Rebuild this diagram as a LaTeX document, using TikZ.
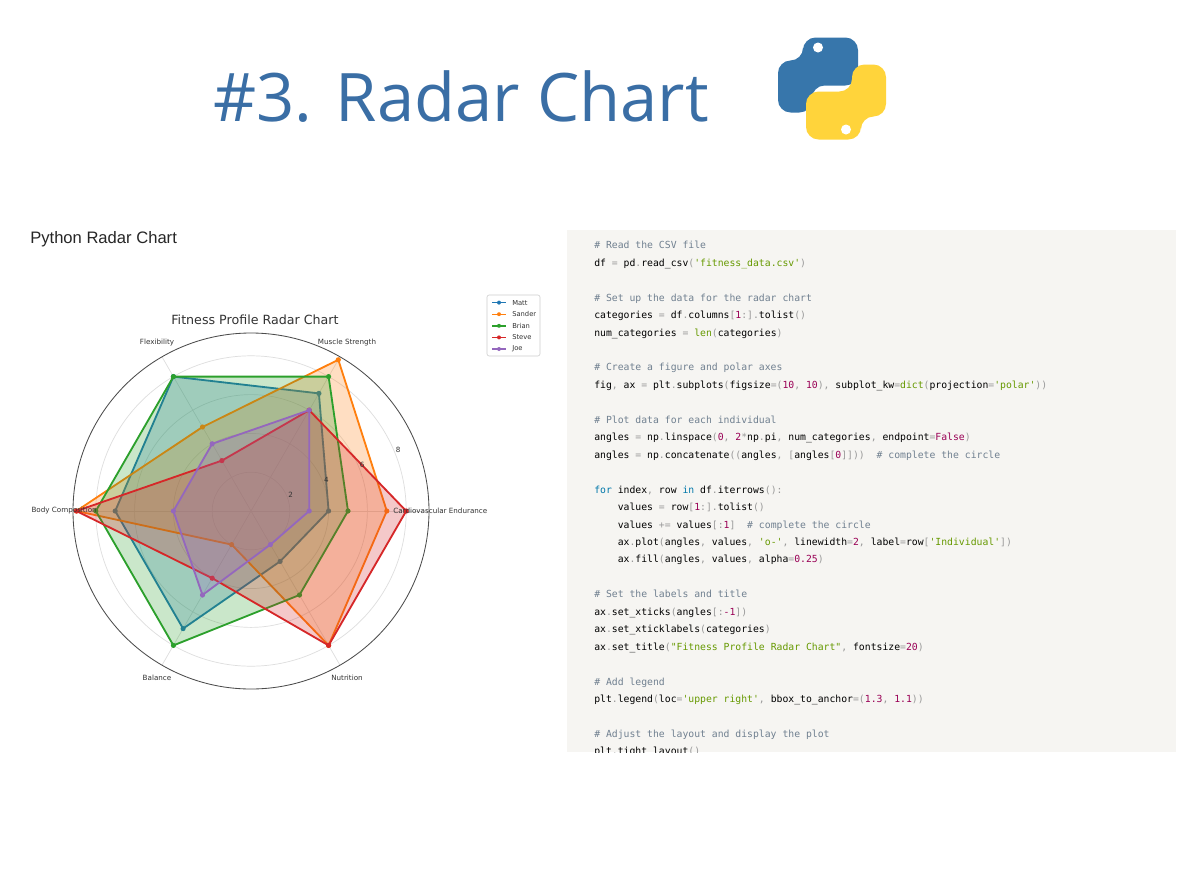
\documentclass[tikz,border=0pt]{standalone}
\usepackage{fontspec}
\setmainfont{Open Sans}
\setmonofont{DejaVu Sans Mono}
\newfontfamily\arialf{Liberation Sans}
\newfontfamily\mplf{DejaVu Sans}
\definecolor{ttl}{HTML}{3A6EA5}
\definecolor{pyblue}{HTML}{3776AB}
\definecolor{pyyel}{HTML}{FFD43B}
\definecolor{codebg}{HTML}{F6F5F2}
\definecolor{cmt}{HTML}{708090}
\definecolor{str}{HTML}{669900}
\definecolor{num}{HTML}{990055}
\definecolor{kw}{HTML}{0077AA}
\definecolor{pun}{HTML}{999999}
\definecolor{cb}{HTML}{1F77B4}
\definecolor{co}{HTML}{FF7F0E}
\definecolor{cg}{HTML}{2CA02C}
\definecolor{cr}{HTML}{D62728}
\definecolor{cp}{HTML}{9467BD}
\newcommand\Cm[1]{\textcolor{cmt}{#1}}
\newcommand\St[1]{\textcolor{str}{#1}}
\newcommand\Nm[1]{\textcolor{num}{#1}}
\newcommand\Kw[1]{\textcolor{kw}{#1}}
\newcommand\Pu[1]{\textcolor{pun}{#1}}
\newcommand\radarpoly[7]{%
  \draw[#1,line width=1.3pt,fill=#1,fill opacity=.25,line join=round]
    (0:#2*19.4) -- (60:#3*19.4) -- (120:#4*19.4) -- (180:#5*19.4) -- (240:#6*19.4) -- (300:#7*19.4) -- cycle;
  \foreach \a/\v in {0/#2,60/#3,120/#4,180/#5,240/#6,300/#7} \fill[#1] (\a:\v*19.4) circle (2.6);}
\newcommand\snake{%
  (-29,-28) -- (-29,-51) -- (26,-51) -- (26,-3) -- (-20,-3) -- (-20,24) -- (-54,24) -- (-54,-28) -- cycle}
\begin{document}
\begin{tikzpicture}[x=0.25mm,y=-0.25mm,
  codeline/.style={anchor=west,inner sep=0pt,font=\ttfamily\fontsize{6.95pt}{8pt}\selectfont,text height=5.5pt,text depth=1.5pt},
  axlab/.style={font=\mplf\fontsize{5.1pt}{6pt}\selectfont,text=black!80,inner sep=0pt},
  leglab/.style={font=\mplf\fontsize{4.8pt}{6pt}\selectfont,text=black!80,anchor=west,inner sep=0pt}]
\useasboundingbox[fill=white] (0,0) rectangle (1200,873);

% Title
\node[text=ttl,font=\fontsize{47.6pt}{56pt}\selectfont,anchor=west,inner sep=0pt] (title) at (213,97) {\#3. Radar Chart};

% Python logo
\begin{scope}[shift={(832,88.5)}]
  \fill[pyblue,rounded corners=9] \snake;
  \fill[white] (-14,-41) circle (5);
  \begin{scope}[rotate=180]
  \fill[pyyel,rounded corners=9] \snake;
  \fill[white] (-14,-41) circle (5);
  \end{scope}
\end{scope}

% Left panel
\node[font=\arialf\fontsize{11.8pt}{14pt}\selectfont,anchor=west,inner sep=0pt,text=black!85] (lt) at (30,239) {Python Radar Chart};
\node[font=\mplf\fontsize{9pt}{11pt}\selectfont,text=black!80,inner sep=0pt] (ct) at (255,320) {Fitness Profile Radar Chart};

\begin{scope}[shift={(251,511)},yscale=-1]
  \foreach \r in {2,4,6,8} \draw[black!13,line width=0.5pt] (0,0) circle (\r*19.4);
  \foreach \a in {0,60,...,300} \draw[black!13,line width=0.5pt] (0,0) -- (\a:178);
  \radarpoly{cb}{4}{7}{8}{7}{7}{3}
  \radarpoly{co}{7}{9}{5}{9}{2}{8}
  \radarpoly{cg}{5}{8}{8}{8}{8}{5}
  \radarpoly{cr}{8}{6}{3}{9}{4}{8}
  \radarpoly{cp}{3}{6}{4}{4}{5}{2}
  \draw[black!70,line width=0.6pt] (0,0) circle (178);
  \foreach \r in {2,4,6,8} \node[axlab] at (22.5:\r*19.4+4) {\r};
  \node[axlab,anchor=west] at (142,0) {Cardiovascular Endurance};
  \node[axlab] at (96,168) {Muscle Strength};
  \node[axlab] at (-94,168) {Flexibility};
  \node[axlab,anchor=east] at (-154,0) {Body Composition};
  \node[axlab] at (-94,-167) {Balance};
  \node[axlab] at (96,-167) {Nutrition};
\end{scope}

% Legend
\draw[black!20,fill=white,rounded corners=1.5,line width=0.4pt] (487,295) rectangle (540,356);
\foreach \c/\n [count=\i] in {cb/Matt,co/Sander,cg/Brian,cr/Steve,cp/Joe}{
  \draw[\c,line width=1pt] (492,291+11.6*\i) -- (506,291+11.6*\i);
  \fill[\c] (499,291+11.6*\i) circle (2);
  \node[leglab] at (512,291+11.6*\i) {\n};
}

% Code panel
\fill[codebg] (567,230) rectangle (1176,752);
\begin{scope}
\clip (567,230) rectangle (1176,752);
\def\L{17.45}
\node[codeline] at (594,246+0*\L) {\Cm{\# Read the CSV file}};
\node[codeline] at (594,246+1*\L) {df \Pu{=} pd\Pu{.}read\_csv\Pu{(}\St{'fitness\_data.csv'}\Pu{)}};
\node[codeline] at (594,246+3*\L) {\Cm{\# Set up the data for the radar chart}};
\node[codeline] at (594,246+4*\L) {categories \Pu{=} df\Pu{.}columns\Pu{[}\Nm{1}\Pu{:].}tolist\Pu{()}};
\node[codeline] at (594,246+5*\L) {num\_categories \Pu{=} \St{len}\Pu{(}categories\Pu{)}};
\node[codeline] at (594,246+7*\L) {\Cm{\# Create a figure and polar axes}};
\node[codeline] at (594,246+8*\L) {fig\Pu{,} ax \Pu{=} plt\Pu{.}subplots\Pu{(}figsize\Pu{=(}\Nm{10}\Pu{,} \Nm{10}\Pu{),} subplot\_kw\Pu{=}\St{dict}\Pu{(}projection\Pu{=}\St{'polar'}\Pu{))}};
\node[codeline] at (594,246+10*\L) {\Cm{\# Plot data for each individual}};
\node[codeline] at (594,246+11*\L) {angles \Pu{=} np\Pu{.}linspace\Pu{(}\Nm{0}\Pu{,} \Nm{2}\Pu{*}np\Pu{.}pi\Pu{,} num\_categories\Pu{,} endpoint\Pu{=}\Nm{False}\Pu{)}};
\node[codeline] at (594,246+12*\L) {angles \Pu{=} np\Pu{.}concatenate\Pu{((}angles\Pu{,} \Pu{[}angles\Pu{[}\Nm{0}\Pu{]]))}\ \ \Cm{\# complete the circle}};
\node[codeline] at (594,246+14*\L) {\Kw{for} index\Pu{,} row \Kw{in} df\Pu{.}iterrows\Pu{():}};
\node[codeline] at (594,246+15*\L) {\phantom{xxxx}values \Pu{=} row\Pu{[}\Nm{1}\Pu{:].}tolist\Pu{()}};
\node[codeline] at (594,246+16*\L) {\phantom{xxxx}values \Pu{+=} values\Pu{[:}\Nm{1}\Pu{]}\ \ \Cm{\# complete the circle}};
\node[codeline] at (594,246+17*\L) {\phantom{xxxx}ax\Pu{.}plot\Pu{(}angles\Pu{,} values\Pu{,} \St{'o-'}\Pu{,} linewidth\Pu{=}\Nm{2}\Pu{,} label\Pu{=}row\Pu{[}\St{'Individual'}\Pu{])}};
\node[codeline] at (594,246+18*\L) {\phantom{xxxx}ax\Pu{.}fill\Pu{(}angles\Pu{,} values\Pu{,} alpha\Pu{=}\Nm{0.25}\Pu{)}};
\node[codeline] at (594,246+20*\L) {\Cm{\# Set the labels and title}};
\node[codeline] at (594,246+21*\L) {ax\Pu{.}set\_xticks\Pu{(}angles\Pu{[:}\Nm{-1}\Pu{])}};
\node[codeline] at (594,246+22*\L) {ax\Pu{.}set\_xticklabels\Pu{(}categories\Pu{)}};
\node[codeline] at (594,246+23*\L) {ax\Pu{.}set\_title\Pu{(}\St{"Fitness Profile Radar Chart"}\Pu{,} fontsize\Pu{=}\Nm{20}\Pu{)}};
\node[codeline] at (594,246+25*\L) {\Cm{\# Add legend}};
\node[codeline] at (594,246+26*\L) {plt\Pu{.}legend\Pu{(}loc\Pu{=}\St{'upper right'}\Pu{,} bbox\_to\_anchor\Pu{=(}\Nm{1.3}\Pu{,} \Nm{1.1}\Pu{))}};
\node[codeline] at (594,246+28*\L) {\Cm{\# Adjust the layout and display the plot}};
\node[codeline] at (594,246+29*\L) {plt\Pu{.}tight\_layout\Pu{()}};
\end{scope}
\end{tikzpicture}
\end{document}
